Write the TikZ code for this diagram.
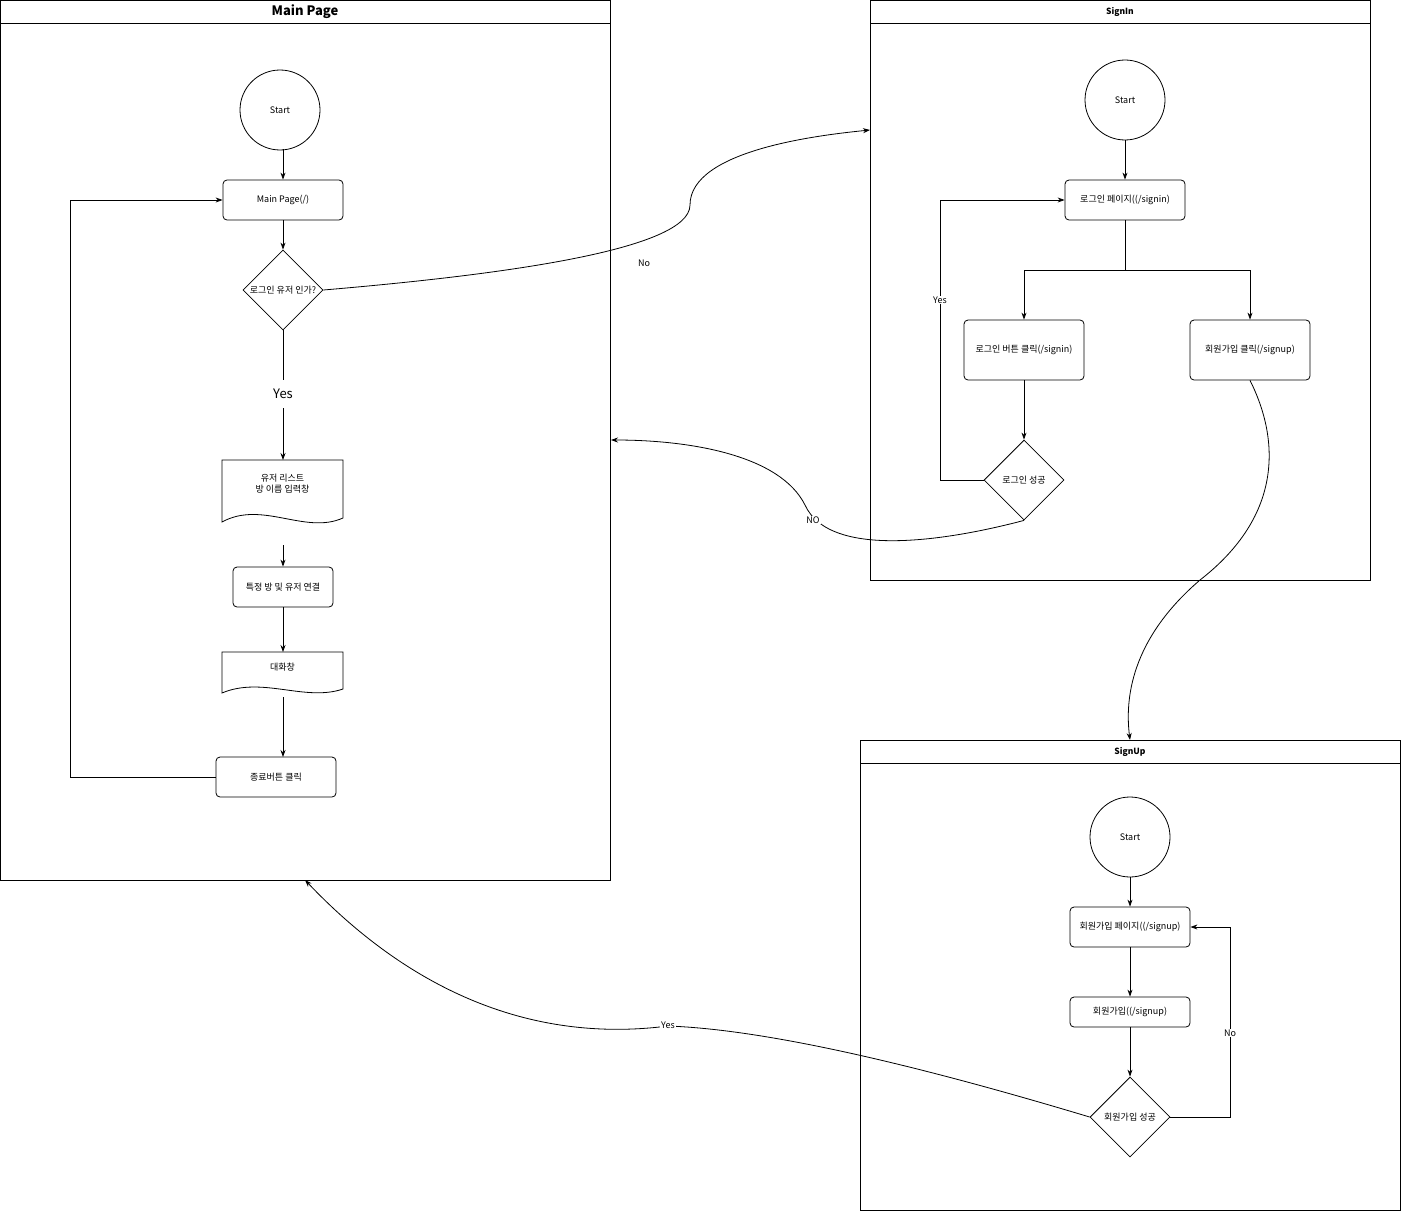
\documentclass[tikz,border=0pt]{standalone}
\usepackage{fontspec}
\setmainfont{Noto Sans CJK KR}
\usetikzlibrary{shapes.geometric,arrows.meta}
\begin{document}
\begin{tikzpicture}[x=1pt,y=-1pt,line width=0.8pt,
  every node/.style={font=\fontsize{9}{11}\selectfont,align=center},
  box/.style={draw,rounded corners=4pt,minimum width=120pt,minimum height=40pt,inner sep=1pt},
  circ/.style={draw,circle,minimum size=80pt,inner sep=0pt},
  dia/.style={draw,diamond,minimum width=80pt,minimum height=80pt,inner sep=0pt},
  arr/.style={-{Stealth[length=7pt,width=5pt]}},
  lab/.style={fill=white,inner sep=1pt}]
\useasboundingbox (0,0) rectangle (1402,1212);
\fill[white] (0,0) rectangle (1402,1212);
% pools
\draw (0.5,0.5) rectangle (610,880); \draw (0.5,23)--(610,23);
\node[font=\bfseries\fontsize{13}{15}\selectfont] (tMain) at (305,12) {Main Page};
\draw (870,0.5) rectangle (1370,580); \draw (870,23)--(1370,23);
\node[font=\bfseries\fontsize{8.5}{10}\selectfont] (tIn) at (1120,12) {SignIn};
\draw (860,740) rectangle (1400,1210); \draw (860,763)--(1400,763);
\node[font=\bfseries\fontsize{8.5}{10}\selectfont] (tUp) at (1130,752) {SignUp};
% main
\node[circ] (s1) at (280,110) {Start};
\node[box] (mp) at (283,200) {Main Page(/)};
\node[dia] (d1) at (283,290) {로그인 유저 인가?};
\node[minimum width=121pt,minimum height=60pt] (doc1) at (282.5,490) {};
\draw (222,460)--(343,460)--(343,518) .. controls (305,535) and (262,500) .. (222,522) -- cycle;
\node at (282.5,484) {유저 리스트\\방 이름 입력창};
\node[box,minimum width=100pt] (conn) at (283,587) {특정 방 및 유저 연결};
\node[minimum width=121pt,minimum height=40pt] (doc2) at (282.5,672) {};
\draw (222,652)--(343,652)--(343,689) .. controls (305,702) and (262,676) .. (222,693) -- cycle;
\node at (282.5,667) {대화창};
\node[box] (end) at (276,777) {종료버튼 클릭};
\draw[arr] (283,149) -- (mp.north);
\draw[arr] (mp) -- (d1);
\draw (d1.south) -- (283,380);
\node[font=\fontsize{13}{15}\selectfont] (yes1) at (283,394) {Yes};
\draw[arr] (283,408) -- (283,460);
\draw[arr] (283,545) -- (conn);
\draw[arr] (conn) -- (283,652);
\draw[arr] (283,697) -- (283,757);
\draw[arr] (end.west) -- (70,777) -- (70,200) -- (mp.west);
% signin
\node[circ] (s2) at (1125,100) {Start};
\node[box] (lp) at (1125,200) {로그인 페이지((/signin)};
\node[box,minimum height=60pt] (lb) at (1024,350) {로그인 버튼 클릭(/signin)};
\node[box,minimum height=60pt] (sb) at (1250,350) {회원가입 클릭(/signup)};
\node[dia] (d2) at (1024,480) {로그인 성공};
\draw[arr] (s2) -- (lp);
\draw[arr] (lp.south) -- (1125,270) -- (1024,270) -- (lb.north);
\draw[arr] (1125,270) -- (1250,270) -- (sb.north);
\draw[arr] (lb) -- (d2);
\draw[arr] (d2.west) -- (940,480) -- (940,200) -- (lp.west);
\node[lab] (yes2) at (940,300) {Yes};
% signup
\node[circ] (s3) at (1130,837) {Start};
\node[box] (up) at (1130,927) {회원가입 페이지((/signup)};
\node[box,minimum height=30pt] (ua) at (1130,1012) {회원가입((/signup)};
\node[dia] (d3) at (1130,1117) {회원가입 성공};
\draw[arr] (s3) -- (up);
\draw[arr] (up) -- (ua);
\draw[arr] (ua) -- (d3);
\draw[arr] (d3.east) -- (1230,1117) -- (1230,927) -- (up.east);
\node[lab] (no3) at (1230,1033) {No};
% cross connectors
\coordinate (inL) at (870,130);
\coordinate (mR) at (611,440);
\coordinate (upT) at (1130,740);
\coordinate (mB) at (305,880);
\draw[arr] (d1.east) .. controls (500,275) and (690,250) .. (690,205) .. controls (690,150) and (820,135) .. (inL);
\node (no1) at (644,263) {No};
\draw[arr] (d2.south) .. controls (950,540) and (830,560) .. (805,505) .. controls (780,455) and (690,440) .. (mR);
\node[lab] (no2) at (813,520) {NO};
\draw[arr] (sb.south) .. controls (1275,430) and (1290,510) .. (1200,580) .. controls (1130,640) and (1125,700) .. (upT);
\draw[arr] (d3.west) .. controls (950,1075) and (780,1030) .. (668,1026) .. controls (520,1045) and (400,980) .. (mB);
\node[lab] (yes3) at (668,1025) {Yes};
\end{tikzpicture}
\end{document}
